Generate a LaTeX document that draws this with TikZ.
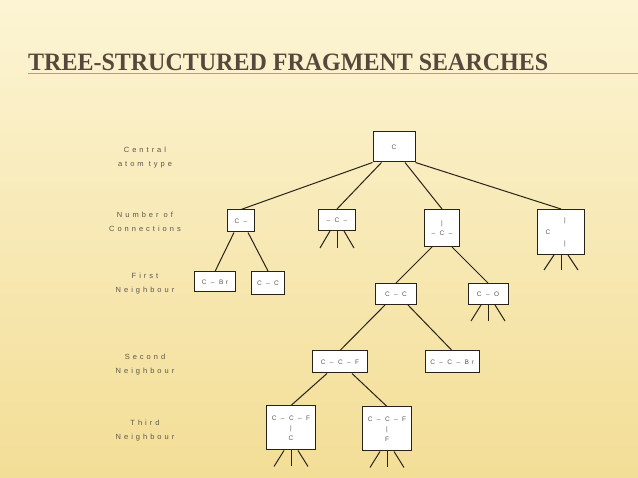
\documentclass[tikz,border=0pt]{standalone}
\usepackage{fontspec}
\setmainfont{Liberation Sans}
\newfontfamily\titlefont{Liberation Serif}
\newfontfamily\spaced[LetterSpace=40]{Liberation Sans}
\definecolor{bgtop}{RGB}{252,244,212}
\definecolor{bgbot}{RGB}{243,222,150}
\definecolor{titlec}{RGB}{85,72,60}
\definecolor{linec}{RGB}{225,150,40}
\definecolor{ink}{RGB}{40,35,25}
\definecolor{txt}{RGB}{90,85,75}
\begin{document}
\begin{tikzpicture}[x=1pt,y=-1pt,
  box/.style={draw=ink,line width=1pt,fill=white,inner sep=0pt,font=\spaced\fontsize{6.5}{10}\selectfont,text=txt,align=center},
  lab/.style={font=\spaced\fontsize{7.5}{14}\selectfont,text=txt,align=center},
  edge/.style={draw=ink,line width=1pt}]
\useasboundingbox (0,0) rectangle (638,478);
\shade[top color=bgtop,bottom color=bgbot] (0,0) rectangle (638,478);
\node[anchor=west,font=\titlefont\bfseries\fontsize{25}{27}\selectfont,text=titlec,xscale=0.96,inner sep=0pt] (title) at (28,62) {TREE-STRUCTURED FRAGMENT SEARCHES};
\coordinate (tl1) at (28,74); \coordinate (tl2) at (638,74);
\draw[linec,line width=1pt] (tl1) -- (tl2);
% labels
\node[lab] (l1) at (145,158) {Central\\atom type};
\node[lab] (l2) at (145,222) {Number of\\Connections};
\node[lab] (l3) at (145,284) {First\\Neighbour};
\node[lab] (l4) at (145,365) {Second\\Neighbour};
\node[lab] (l5) at (145,431) {Third\\Neighbour};
% boxes
\node[box,minimum width=42pt,minimum height=30pt] (root) at (394,147) {C};
\node[box,minimum width=27pt,minimum height=22pt] (a) at (241,221) {C –};
\node[box,minimum width=37pt,minimum height=21pt] (b) at (337,220) {– C –};
\node[box,minimum width=35pt,minimum height=37pt] (c) at (442,228) {|\\– C –};
\node[box,minimum width=47pt,minimum height=45pt] (d) at (561,232) {};
\node[box,draw=none,fill=none] (d1) at (565,221) {|};
\node[box,draw=none,fill=none] (d2) at (548,232) {C};
\node[box,draw=none,fill=none] (d3) at (565,244) {|};
\node[box,minimum width=41pt,minimum height=20pt] (e) at (215,282) {C – Br};
\node[box,minimum width=33pt,minimum height=23pt] (f) at (268,283) {C – C};
\node[box,minimum width=41pt,minimum height=21pt] (g) at (396,294) {C – C};
\node[box,minimum width=40pt,minimum height=21pt] (h) at (488,294) {C – O};
\node[box,minimum width=55pt,minimum height=22pt] (i) at (340,362) {C – C – F};
\node[box,minimum width=54pt,minimum height=22pt] (j) at (452,362) {C – C – Br};
\node[box,minimum width=49pt,minimum height=44pt] (k) at (291,428) {C – C – F\\|\\C};
\node[box,minimum width=49pt,minimum height=44pt] (m) at (387,429) {C – C – F\\|\\F};
% edges
\draw[edge] (root.south west) -- (a.north);
\draw[edge] ([xshift=9pt]root.south west) -- (b.north);
\draw[edge] ([xshift=11pt]root.south) -- (c.north);
\draw[edge] (root.south east) -- (d.north);
\draw[edge] ([xshift=-7pt]a.south) -- (e.north);
\draw[edge] ([xshift=7pt]a.south) -- (f.north);
\draw[edge] ([xshift=-10pt]c.south) -- (g.north);
\draw[edge] ([xshift=10pt]c.south) -- (h.north);
\draw[edge] ([xshift=-11pt]g.south) -- (i.north);
\draw[edge] ([xshift=12pt]g.south) -- (j.north);
\draw[edge] ([xshift=-13pt]i.south) -- (k.north);
\draw[edge] ([xshift=12pt]i.south) -- (m.north);
% dangling bonds
\foreach \n/\len in {b/17,d/15,h/16,k/16,m/16}{
  \draw[edge] ([xshift=-7pt]\n.south) -- ++(-10,\len);
  \draw[edge] (\n.south) -- ++(0,\len);
  \draw[edge] ([xshift=7pt]\n.south) -- ++(10,\len);
}
\end{tikzpicture}
\end{document}
